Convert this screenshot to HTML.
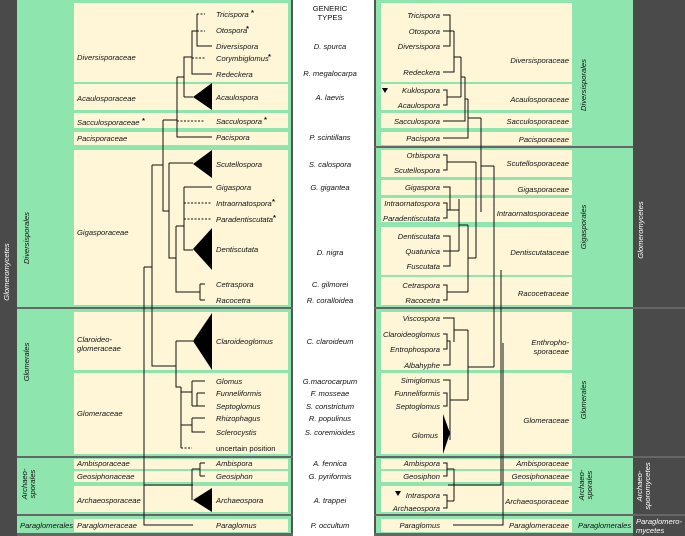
<!DOCTYPE html>
<html><head><meta charset="utf-8"><style>
html,body{margin:0;padding:0;background:#fff;}
svg{display:block;}
text{font-family:"Liberation Sans",sans-serif;font-size:7.6px;font-style:italic;fill:#111;}
.n{font-style:normal;}
.b{font-weight:bold;}
</style></head><body>
<svg width="685" height="536" viewBox="0 0 685 536" xmlns="http://www.w3.org/2000/svg">
<!-- left panel -->
<rect x="0" y="0" width="17" height="536" fill="#4a4a4a"/>
<rect x="17" y="0" width="276" height="536" fill="#8ee6ae"/>
<rect x="291" y="0" width="2" height="536" fill="#555"/>
<g fill="#fff6d8">
<rect x="74" y="3" width="214" height="79"/>
<rect x="74" y="84" width="214" height="26"/>
<rect x="74" y="113" width="214" height="15"/>
<rect x="74" y="132" width="214" height="13"/>
<rect x="74" y="150" width="214" height="155"/>
<rect x="74" y="312" width="214" height="58"/>
<rect x="74" y="373" width="214" height="81"/>
<rect x="74" y="459" width="214" height="10"/>
<rect x="74" y="471" width="214" height="11"/>
<rect x="74" y="486" width="214" height="26"/>
<rect x="74" y="519" width="214" height="13"/>
</g>
<g fill="#666">
<rect x="17" y="307" width="276" height="2"/>
<rect x="17" y="456" width="276" height="2"/>
<rect x="17" y="514" width="276" height="2"/>
<rect x="17" y="533" width="276" height="3"/>
</g>
<!-- right panel -->
<rect x="374" y="0" width="311" height="536" fill="#8ee6ae"/>
<rect x="633" y="0" width="52" height="536" fill="#4a4a4a"/>
<rect x="374" y="0" width="2" height="536" fill="#555"/>
<g fill="#fff6d8">
<rect x="381" y="3" width="191" height="79"/>
<rect x="381" y="84" width="191" height="26"/>
<rect x="381" y="113" width="191" height="15"/>
<rect x="381" y="132" width="191" height="13"/>
<rect x="381" y="150" width="191" height="27"/>
<rect x="381" y="180" width="191" height="15"/>
<rect x="381" y="198" width="191" height="24"/>
<rect x="381" y="227" width="191" height="48"/>
<rect x="381" y="277" width="191" height="28"/>
<rect x="381" y="312" width="191" height="58"/>
<rect x="381" y="373" width="191" height="81"/>
<rect x="381" y="459" width="191" height="10"/>
<rect x="381" y="471" width="191" height="11"/>
<rect x="381" y="486" width="191" height="26"/>
<rect x="381" y="519" width="191" height="13"/>
</g>
<g fill="#666">
<rect x="374" y="146" width="259" height="2"/>
<rect x="374" y="307" width="311" height="2"/>
<rect x="374" y="456" width="311" height="2"/>
<rect x="374" y="514" width="311" height="2"/>
<rect x="374" y="533" width="259" height="3"/>
</g>

<!-- left tree -->
<g stroke="#111" stroke-width="1" fill="none">
<path d="M197 14V46H212M197 31H192V74H212M192 57H184V97M184 97H193"/>
<path d="M177 77H184M177 77V137H212M163 120H177M163 120V211H169"/>
<path d="M152 165H163M152 165V366H176M176 341V387H181M176 341H193"/>
<path d="M169 163H193M169 163V258H176M176 226H184M184 187V250H193M184 187H212M176 226V292H200M200 284V300M200 284H205M200 300H205"/>
<path d="M144 267H152M144 267V525H193M144 485H193"/>
<path d="M181 387V448M192 381V406M181 392H192M192 381H205M192 406H205M197 393H205M197 393V406M181 425H192M192 418V432H205M192 418H205"/>
<path d="M192 469V500M192 469H200M200 463V476M200 463H205M200 476H205"/>
</g>
<g stroke="#111" stroke-width="1" stroke-dasharray="2,1.5">
<path d="M197 14H205M197 31H205M192 58H205M177 121H205M184 203H212M184 219H212M181 448H192"/>
</g>
<g fill="#000">
<polygon points="193,97 212,83 212,110"/>
<polygon points="193,164 212,150 212,178"/>
<polygon points="193,249 212,228 212,270"/>
<polygon points="193,341 212,313 212,370"/>
<polygon points="193,500 212,488 212,512"/>
</g>

<!-- left labels -->
<g>
<text x="216" y="17">Tricispora</text><text x="251" y="15" class="n b" font-size="10">*</text>
<text x="216" y="33">Otospora</text><text x="246" y="31" class="n b" font-size="10">*</text>
<text x="216" y="49">Diversispora</text>
<text x="216" y="61">Corymbiglomus</text><text x="268" y="59" class="n b" font-size="10">*</text>
<text x="216" y="77">Redeckera</text>
<text x="216" y="100">Acaulospora</text>
<text x="216" y="124">Sacculospora</text><text x="264" y="122" class="n b" font-size="10">*</text>
<text x="216" y="140">Pacispora</text>
<text x="216" y="167">Scutellospora</text>
<text x="216" y="190">Gigaspora</text>
<text x="216" y="206">Intraornatospora</text><text x="272" y="204" class="n b" font-size="10">*</text>
<text x="216" y="222">Paradentiscutata</text><text x="273" y="220" class="n b" font-size="10">*</text>
<text x="216" y="252">Dentiscutata</text>
<text x="216" y="287">Cetraspora</text>
<text x="216" y="303">Racocetra</text>
<text x="216" y="344">Claroideoglomus</text>
<text x="216" y="384">Glomus</text>
<text x="216" y="396">Funneliformis</text>
<text x="216" y="409">Septoglomus</text>
<text x="216" y="421">Rhizophagus</text>
<text x="216" y="435">Sclerocystis</text>
<text x="216" y="451" class="n">uncertain position</text>
<text x="216" y="466">Ambispora</text>
<text x="216" y="479">Geosiphon</text>
<text x="216" y="503">Archaeospora</text>
<text x="216" y="528">Paraglomus</text>

<text x="77" y="60">Diversisporaceae</text>
<text x="77" y="101">Acaulosporaceae</text>
<text x="77" y="125">Sacculosporaceae</text><text x="142" y="123" class="n b" font-size="10">*</text>
<text x="77" y="141">Pacisporaceae</text>
<text x="77" y="235">Gigasporaceae</text>
<text x="77" y="342">Claroideo-</text>
<text x="77" y="351">glomeraceae</text>
<text x="77" y="416">Glomeraceae</text>
<text x="77" y="466">Ambisporaceae</text>
<text x="77" y="479">Geosiphonaceae</text>
<text x="77" y="503">Archaeosporaceae</text>
<text x="77" y="528">Paraglomeraceae</text>
<text x="20" y="528">Paraglomerales</text>

<text transform="translate(29,238) rotate(-90)" text-anchor="middle">Diversisporales</text>
<text transform="translate(29,362) rotate(-90)" text-anchor="middle">Glomerales</text>
<text transform="translate(27,484) rotate(-90)" text-anchor="middle">Archaeo-</text>
<text transform="translate(35,484) rotate(-90)" text-anchor="middle">sporales</text>
<text transform="translate(9,272) rotate(-90)" text-anchor="middle" style="fill:#fff">Glomeromycetes</text>
</g>

<!-- center -->
<g text-anchor="middle">
<text x="330" y="11" class="n">GENERIC</text>
<text x="330" y="20" class="n">TYPES</text>
<text x="330" y="49">D. spurca</text>
<text x="330" y="76">R. megalocarpa</text>
<text x="330" y="100">A. laevis</text>
<text x="330" y="140">P. scintillans</text>
<text x="330" y="167">S. calospora</text>
<text x="330" y="190">G. gigantea</text>
<text x="330" y="255">D. nigra</text>
<text x="330" y="287">C. gilmorei</text>
<text x="330" y="303">R. coralloidea</text>
<text x="330" y="344">C. claroideum</text>
<text x="330" y="384">G.macrocarpum</text>
<text x="330" y="396">F. mosseae</text>
<text x="330" y="409">S. constrictum</text>
<text x="330" y="421">R. populinus</text>
<text x="330" y="435">S. coremioides</text>
<text x="330" y="466">A. fennica</text>
<text x="330" y="479">G. pyriformis</text>
<text x="330" y="503">A. trappei</text>
<text x="330" y="528">P. occultum</text>
</g>

<!-- right tree -->
<g stroke="#111" stroke-width="1" fill="none">
<path d="M443 15H450V46H443M443 31H454M454 31V72H443M454 57H461M461 57V97M443 90H447V105H443M447 97H461"/>
<path d="M461 77H465M465 77V121H443M465 99H468M468 99V138H443M468 118H481M481 118V212"/>
<path d="M443 155H447V170H443M447 162H476M476 162V258M481 166H494"/>
<path d="M443 187H450V210M443 203H447V218H443M447 210H459M459 199V251M443 236H450V266H443M443 251H459M459 225H468M468 225V292M443 285H447V300H443M447 292H468M468 258H476"/>
<path d="M494 166V367M468 367H494"/>
<path d="M443 318H454V342M443 334H447V349H443M447 341H450V365H443M454 330H468M468 330V400"/>
<path d="M443 380H450V440M443 393H447V406H443M450 400H468"/>
<path d="M501 270V485M448 485H501M503 343V525H453"/>
<path d="M443 463H447V476H443M447 469H454M454 469V501M443 495H447V508H443M447 501H454"/>
</g>
<polygon points="443,414 450,433 443,454" fill="#000"/>
<polygon points="382,88 388,88 385,93" fill="#000"/>
<polygon points="395,491 401,491 398,496" fill="#000"/>

<!-- right labels -->
<g text-anchor="end">
<text x="440" y="18">Tricispora</text>
<text x="440" y="34">Otospora</text>
<text x="440" y="49">Diversispora</text>
<text x="440" y="75">Redeckera</text>
<text x="440" y="93">Kuklospora</text>
<text x="440" y="108">Acaulospora</text>
<text x="440" y="124">Sacculospora</text>
<text x="440" y="141">Pacispora</text>
<text x="440" y="158">Orbispora</text>
<text x="440" y="173">Scutellospora</text>
<text x="440" y="190">Gigaspora</text>
<text x="440" y="206">Intraornatospora</text>
<text x="440" y="221">Paradentiscutata</text>
<text x="440" y="239">Dentiscutata</text>
<text x="440" y="254">Quatunica</text>
<text x="440" y="269">Fuscutata</text>
<text x="440" y="288">Cetraspora</text>
<text x="440" y="303">Racocetra</text>
<text x="440" y="321">Viscospora</text>
<text x="440" y="337">Claroideoglomus</text>
<text x="440" y="352">Entrophospora</text>
<text x="440" y="368">Albahyphe</text>
<text x="440" y="383">Simiglomus</text>
<text x="440" y="396">Funneliformis</text>
<text x="440" y="409">Septoglomus</text>
<text x="438" y="438">Glomus</text>
<text x="440" y="466">Ambispora</text>
<text x="440" y="479">Geosiphon</text>
<text x="440" y="498">Intraspora</text>
<text x="440" y="511">Archaeospora</text>
<text x="440" y="528">Paraglomus</text>

<text x="569" y="63">Diversisporaceae</text>
<text x="569" y="102">Acaulosporaceae</text>
<text x="569" y="124">Sacculosporaceae</text>
<text x="569" y="142">Pacisporaceae</text>
<text x="569" y="166">Scutellosporaceae</text>
<text x="569" y="192">Gigasporaceae</text>
<text x="569" y="216">Intraornatosporaceae</text>
<text x="569" y="255">Dentiscutataceae</text>
<text x="569" y="296">Racocetraceae</text>
<text x="569" y="345">Enthropho-</text>
<text x="569" y="354">sporaceae</text>
<text x="569" y="423">Glomeraceae</text>
<text x="569" y="466">Ambisporaceae</text>
<text x="569" y="479">Geosiphonaceae</text>
<text x="569" y="504">Archaeosporaceae</text>
<text x="569" y="528">Paraglomeraceae</text>
</g>
<text x="578" y="528">Paraglomerales</text>
<text transform="translate(586,85) rotate(-90)" text-anchor="middle">Diversisporales</text>
<text transform="translate(586,227) rotate(-90)" text-anchor="middle">Gigasporales</text>
<text transform="translate(586,400) rotate(-90)" text-anchor="middle">Glomerales</text>
<text transform="translate(584,485) rotate(-90)" text-anchor="middle">Archaeo-</text>
<text transform="translate(592,485) rotate(-90)" text-anchor="middle">sporales</text>
<g style="fill:#fff">
<text transform="translate(643,230) rotate(-90)" text-anchor="middle" style="fill:#fff">Glomeromycetes</text>
<text transform="translate(642,486) rotate(-90)" text-anchor="middle" style="fill:#fff">Archaeo-</text>
<text transform="translate(650,486) rotate(-90)" text-anchor="middle" style="fill:#fff">sporomycetes</text>
<text x="636" y="524" style="fill:#fff">Paraglomero-</text>
<text x="636" y="533" style="fill:#fff">mycetes</text>
</g>
</svg>
</body></html>
